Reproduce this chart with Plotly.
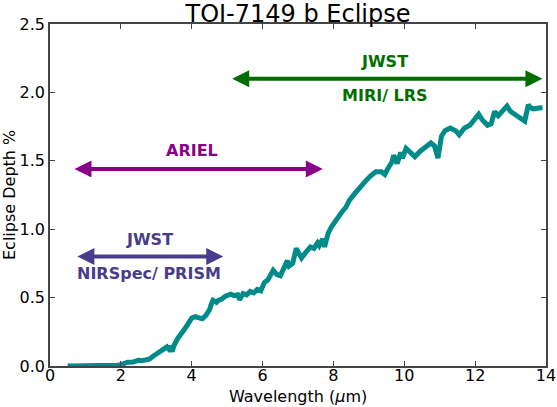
import plotly.graph_objects as go

# Eclipse depth spectrum
wavelength = [
    0.5, 0.8, 1.1, 1.4, 1.7, 1.9, 2.0, 2.1, 2.2, 2.35, 2.5, 2.6, 2.7, 2.8, 2.9,
    3.0, 3.1, 3.2, 3.3, 3.35, 3.4, 3.45, 3.5, 3.6, 3.7, 3.8, 3.9, 4.0, 4.1, 4.2,
    4.3, 4.4, 4.5, 4.55, 4.6, 4.7, 4.75, 4.85, 4.95, 5.1, 5.2, 5.3, 5.35, 5.45,
    5.55, 5.65, 5.75, 5.85, 5.95, 6.05, 6.15, 6.3, 6.4, 6.5, 6.6, 6.7, 6.75,
    6.85, 6.95, 7.05, 7.1, 7.25, 7.35, 7.45, 7.55, 7.6, 7.7, 7.75, 7.85, 7.95,
    8.05, 8.15, 8.25, 8.35, 8.45, 8.6, 8.75, 8.9, 9.05, 9.2, 9.35, 9.45, 9.55,
    9.65, 9.7, 9.8, 9.9, 9.95, 10.05, 10.15, 10.3, 10.45, 10.6, 10.75, 10.85,
    10.95, 11.05, 11.15, 11.3, 11.45, 11.55, 11.7, 11.85, 12.0, 12.1, 12.2,
    12.35, 12.45, 12.55, 12.65, 12.75, 12.9, 13.0, 13.1, 13.25, 13.4, 13.5,
    13.55, 13.65, 13.8, 13.9,
]
depth = [
    0.0, 0.0, 0.001, 0.002, 0.004, 0.006, 0.01, 0.022, 0.028, 0.03, 0.042,
    0.038, 0.045, 0.05, 0.07, 0.09, 0.11, 0.12, 0.14, 0.125, 0.145, 0.105, 0.15,
    0.2, 0.23, 0.27, 0.31, 0.35, 0.36, 0.355, 0.345, 0.37, 0.41, 0.45, 0.48,
    0.465, 0.48, 0.49, 0.51, 0.525, 0.515, 0.52, 0.485, 0.53, 0.52, 0.545,
    0.535, 0.56, 0.55, 0.61, 0.63, 0.7, 0.67, 0.66, 0.72, 0.77, 0.73, 0.75,
    0.86, 0.80, 0.79, 0.84, 0.87, 0.86, 0.90, 0.88, 0.93, 0.87, 0.97, 1.02,
    1.06, 1.09, 1.13, 1.16, 1.21, 1.26, 1.31, 1.35, 1.39, 1.42, 1.42, 1.40,
    1.45, 1.49, 1.54, 1.48, 1.56, 1.52, 1.59, 1.57, 1.53, 1.57, 1.60, 1.63,
    1.61, 1.52, 1.68, 1.72, 1.74, 1.72, 1.69, 1.74, 1.76, 1.81, 1.84, 1.80,
    1.76, 1.77, 1.86, 1.83, 1.86, 1.90, 1.86, 1.84, 1.82, 1.79, 1.91, 1.89,
    1.88, 1.89, 1.89,
]

# instrument coverage bands:
# (name line 1, name line 2, start, end, level, label centre, colour)
bands = [
    ("JWST", "MIRI/ LRS", 5.1, 13.9, 2.1, 9.45, "#006f00"),
    ("ARIEL", None, 0.65, 7.7, 1.44, 4.0, "#8b008b"),
    ("JWST", "NIRSpec/ PRISM", 0.73, 4.89, 0.80, 2.8, "#483d8b"),
]
x_ticks = [0, 2, 4, 6, 8, 10, 12, 14]
y_ticks = [0.0, 0.5, 1.0, 1.5, 2.0, 2.5]

fig = go.Figure()
fig.add_trace(go.Scatter(
    x=wavelength, y=depth, mode="lines",
    line=dict(color="#008b8b", width=5), showlegend=False,
))

annotations = []
for top, bottom, x0, x1, level, mid, colour in bands:
    annotations.append(dict(
        x=x1, y=level, ax=x0, ay=level, xref="x", yref="y", axref="x", ayref="y",
        text="", showarrow=True, arrowside="end+start", arrowhead=2,
        startarrowhead=2, arrowsize=0.85, startarrowsize=0.85, arrowwidth=4,
        arrowcolor=colour, standoff=0, startstandoff=0,
    ))
    font = dict(family="DejaVu Sans", size=16, color=colour, weight="bold")
    if bottom is None:
        annotations.append(dict(x=mid, y=level, yshift=19, text=top,
                                showarrow=False, font=font))
    else:
        annotations.append(dict(x=mid, y=level, yshift=17, text=top,
                                showarrow=False, font=font))
        annotations.append(dict(x=mid, y=level, yshift=-17, text=bottom,
                                showarrow=False, font=font))

# axis titles placed by hand so the plot box keeps its size
label_font = dict(family="DejaVu Sans", size=16, color="black")
annotations.append(dict(text="Wavelength (<i>μ</i>m)", x=0.5, y=0,
                        xref="paper", yref="paper", yshift=-30,
                        yanchor="middle", showarrow=False, font=label_font))
annotations.append(dict(text="Eclipse Depth %", x=0, y=0.5,
                        xref="paper", yref="paper", xshift=-41, textangle=-90,
                        xanchor="center", showarrow=False, font=label_font))

axis_style = dict(
    showline=True, linecolor="#444444", linewidth=1.5, mirror="ticks",
    ticks="inside", ticklen=5, tickwidth=1, tickcolor="#444444",
    showgrid=False, zeroline=False, automargin=False,
    tickfont=dict(family="DejaVu Sans", size=16, color="black"),
)

fig.update_layout(
    width=557, height=407,
    margin=dict(l=50, r=11, t=24, b=41),
    plot_bgcolor="white", paper_bgcolor="white",
    title=dict(text="TOI-7149 b Eclipse", xref="paper", x=0.5,
               xanchor="center", y=1 - 13.7 / 407, yanchor="middle",
               font=dict(family="DejaVu Sans", size=24, color="black")),
    xaxis=dict(range=[0, 14], tickvals=x_ticks, ticklabelstandoff=-6,
               **axis_style),
    yaxis=dict(range=[0, 2.5], tickvals=y_ticks, tickformat=".1f", **axis_style),
    annotations=annotations,
)

# page margin off so the figure sits at the window corner
fig.write_html("out.html", config={"displayModeBar": False},
               post_script="document.body.style.margin = '0';")
